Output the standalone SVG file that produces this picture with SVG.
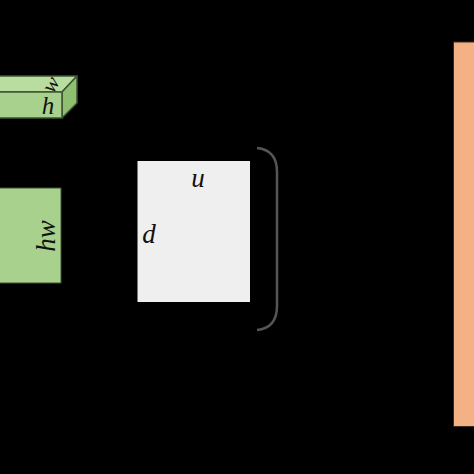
<svg xmlns="http://www.w3.org/2000/svg" width="474" height="474" viewBox="0 0 474 474">
<style>
.lbl{font-family:"Liberation Serif","DejaVu Serif",serif;font-style:italic;fill:#111;}
.g{stroke:#3b5530;stroke-width:1.5;stroke-linejoin:round}
</style>
<rect width="474" height="474" fill="#000"/>
<g id="tensor3d">
<polygon class="g" points="-5,92 62,92 77,76 10,76 -5,76" fill="#b9dca0"/>
<polygon class="g" points="62,92 77,76 77,103 62,118" fill="#8fbf70"/>
<rect class="g" x="-5" y="92" width="67" height="26" fill="#a9d18e"/>
<text class="lbl" x="48" y="114" font-size="25" text-anchor="middle">h</text>
<text class="lbl" x="0" y="0" font-size="22" text-anchor="middle" transform="translate(57,88) rotate(-60)">w</text>
</g>
<g id="matrix">
<rect x="-5" y="188" width="66" height="95" fill="#a9d18e" stroke="#3b5530" stroke-width="1"/>
<text class="lbl" x="0" y="0" font-size="27" text-anchor="middle" transform="translate(55,236) rotate(-90)">hw</text>
</g>
<g id="weight">
<rect x="137.5" y="161" width="112.5" height="141" fill="#efefef"/>
<text class="lbl" x="198" y="187" font-size="27" text-anchor="middle">u</text>
<text class="lbl" x="149" y="243" font-size="27" text-anchor="middle">d</text>
</g>
<g id="connectors">
<path d="M257,148 Q277,150 277,172 L277,306 Q277,328 257,330" fill="none" stroke="#555" stroke-width="2.5"/>
</g>
<g id="output">
<rect x="453.5" y="42" width="30" height="384.5" fill="#f4b183" stroke="#3a2a20" stroke-width="1"/>
</g>
</svg>
